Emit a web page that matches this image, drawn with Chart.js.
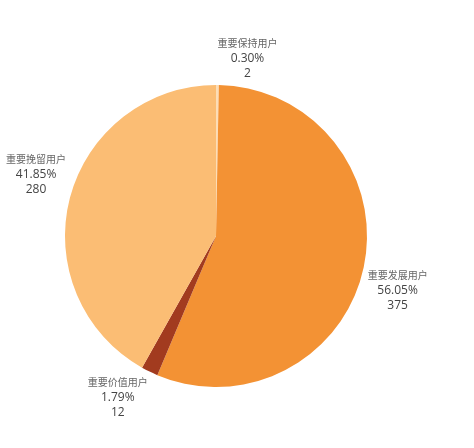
<!DOCTYPE html>
<html>
<head>
<meta charset="utf-8">
<script src="https://cdn.jsdelivr.net/npm/chart.js@4/dist/chart.umd.min.js"></script>
<style>
    body { margin: 0; background: #fff; }
    canvas { display: block; }
</style>
</head>
<body>
<canvas id="pieChart" width="474" height="448"></canvas>
<script>
// Chart data
const labels = ['重要保持用户', '重要发展用户', '重要价值用户', '重要挽留用户'];
const counts = [2, 375, 12, 280];
const percents = ['0.30%', '56.05%', '1.79%', '41.85%'];
const colors = ['#FCDDB6', '#F39234', '#A23B1F', '#FBBD74'];

// Draws the three-line label outside each slice
const outsideLabels = {
    id: 'outsideLabels',
    afterDatasetsDraw(chart) {
        const ctx = chart.ctx;
        const meta = chart.getDatasetMeta(0);
        const lineHeight = 15;
        const gap = 4;

        meta.data.forEach((arc, i) => {
            const p = arc.getProps(['x', 'y', 'startAngle', 'endAngle', 'outerRadius'], true);
            const mid = (p.startAngle + p.endAngle) / 2;
            const dx = Math.cos(mid);
            const dy = Math.sin(mid);
            const px = p.x + (p.outerRadius + gap) * dx;
            const py = p.y + (p.outerRadius + gap) * dy;

            const lines = [
                { text: labels[i], font: '10px "Noto Sans CJK SC"', color: '#666' },
                { text: percents[i], font: '12px "Open Sans"', color: '#444' },
                { text: String(counts[i]), font: '12px "Open Sans"', color: '#444' }
            ];

            // widest line decides the block width
            let w = 0;
            lines.forEach(l => {
                ctx.font = l.font;
                w = Math.max(w, ctx.measureText(l.text).width);
            });

            const cx = dx >= 0 ? px + w / 2 : px - w / 2;
            const top = dy < 0 ? py - lines.length * lineHeight : py;

            ctx.save();
            ctx.textAlign = 'center';
            ctx.textBaseline = 'middle';
            lines.forEach((l, j) => {
                ctx.font = l.font;
                ctx.fillStyle = l.color;
                ctx.fillText(l.text, cx, top + lineHeight * j + lineHeight / 2);
            });
            ctx.restore();
        });
    }
};

const ctx = document.getElementById('pieChart').getContext('2d');

new Chart(ctx, {
    type: 'pie',
    data: {
        labels: labels,
        datasets: [{
            data: counts,
            backgroundColor: colors,
            borderWidth: 0
        }]
    },
    options: {
        responsive: false,
        animation: false,
        layout: {
            padding: { left: 65, right: 107, top: 85, bottom: 61 }
        },
        plugins: {
            legend: { display: false },
            tooltip: { enabled: false }
        }
    },
    plugins: [outsideLabels]
});
</script>
</body>
</html>
